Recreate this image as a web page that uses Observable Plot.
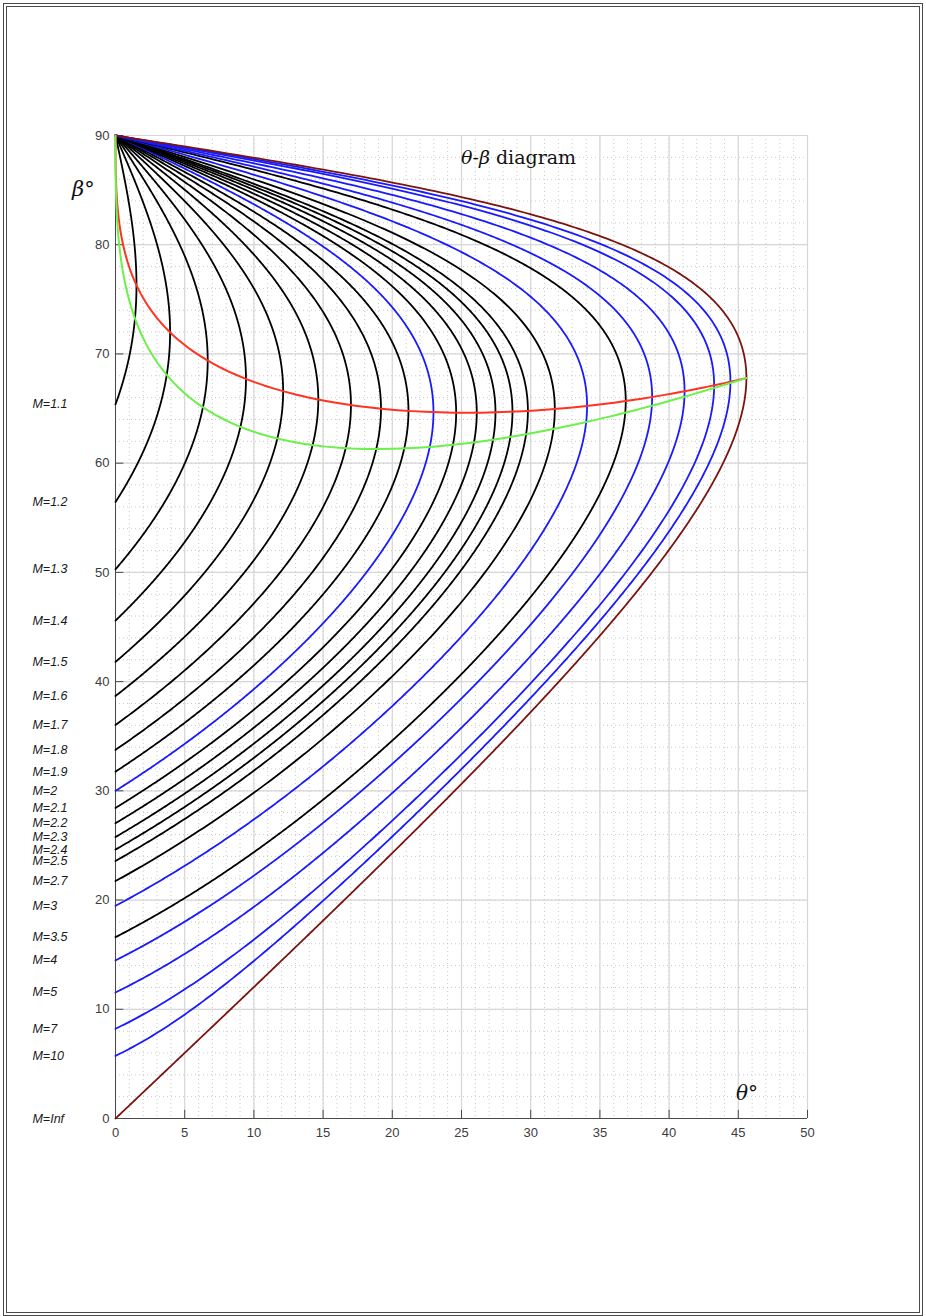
<!DOCTYPE html>
<html>
<head>
<meta charset="utf-8">
<script src="https://cdn.jsdelivr.net/npm/d3@7"></script>
<script src="https://cdn.jsdelivr.net/npm/@observablehq/plot@0.6"></script>
<style>
  html, body { margin: 0; padding: 0; background: #fff; }
  #page { position: relative; width: 926px; height: 1316px; overflow: hidden; }
  #frame { position: absolute; left: 3px; top: 3px; width: 920px; height: 1313px; box-sizing: border-box; border: 4px double #4a4a4a; pointer-events: none; }
  #chart { position: absolute; left: 0; top: 0; }
  .lbl { position: absolute; white-space: nowrap; color: #111; }
  #title { font-family: "DejaVu Serif", "Liberation Serif", serif; font-size: 19px; left: 461px; top: 146px; }
  #ylab { font-family: "DejaVu Serif", "Liberation Serif", serif; font-style: italic; font-size: 21px; left: 72px; top: 177px; }
  #xlab { font-family: "DejaVu Serif", "Liberation Serif", serif; font-style: italic; font-size: 20px; left: 736px; top: 1081px; }
</style>
</head>
<body>
<div id="page">
  <div id="chart"></div>
  <div class="lbl" id="title"><i>θ</i>-<i>β</i> diagram</div>
  <div class="lbl" id="ylab">β°</div>
  <div class="lbl" id="xlab">θ°</div>
  <div id="frame"></div>
</div>
<script>
// Mach numbers of the drawn curves
const machNumbers = [1.1, 1.2, 1.3, 1.4, 1.5, 1.6, 1.7, 1.8, 1.9, 2, 2.1, 2.2, 2.3, 2.4, 2.5, 2.7, 3, 3.5, 4, 5, 7, 10, Infinity];
const machLabels  = ["M=1.1","M=1.2","M=1.3","M=1.4","M=1.5","M=1.6","M=1.7","M=1.8","M=1.9","M=2","M=2.1","M=2.2","M=2.3","M=2.4","M=2.5","M=2.7","M=3","M=3.5","M=4","M=5","M=7","M=10","M=Inf"];
const blueMach = [2, 3, 4, 5, 7, 10];
const xTicks = [0, 5, 10, 15, 20, 25, 30, 35, 40, 45, 50];
const yTicks = [0, 10, 20, 30, 40, 50, 60, 70, 80, 90];
const xMinor = d3.range(0, 51, 1);
const yMinor = d3.range(0, 91, 2);
const gamma = 1.4;

const deg = r => r * 180 / Math.PI;
// oblique shock theta-beta-M relation
function thetaOf(M, b) {
  if (!isFinite(M)) return Math.atan(Math.sin(2 * b) / (gamma + Math.cos(2 * b)));
  const s = Math.sin(b);
  return Math.atan((2 / Math.tan(b)) * (M * M * s * s - 1) / (M * M * (gamma + Math.cos(2 * b)) + 2));
}
function colorOf(M) {
  if (!isFinite(M)) return "#7a1410";
  return blueMach.includes(M) ? "#1a1aff" : "#000000";
}

const curves = [];
machNumbers.forEach((M, k) => {
  const mu = isFinite(M) ? Math.asin(1 / M) : 0;
  const N = 600;
  for (let i = 0; i <= N; i++) {
    const b = mu + (Math.PI / 2 - mu) * i / N;
    curves.push({M: machLabels[k], theta: Math.max(0, deg(thetaOf(M, b))), beta: deg(b), color: colorOf(M)});
  }
});

// max-deflection locus and sonic locus
function betaMax(M) {
  const M2 = M * M;
  const s2 = ((gamma + 1) * M2 / 4 - 1 + Math.sqrt((gamma + 1) * (1 + (gamma - 1) * M2 / 2 + (gamma + 1) * M2 * M2 / 16))) / (gamma * M2);
  return Math.asin(Math.sqrt(Math.min(1, s2)));
}
function downstreamMach(M, b) {
  const mn1 = M * Math.sin(b);
  const mn2sq = (1 + (gamma - 1) / 2 * mn1 * mn1) / (gamma * mn1 * mn1 - (gamma - 1) / 2);
  return Math.sqrt(mn2sq) / Math.sin(b - thetaOf(M, b));
}
function betaSonic(M) {
  let lo = Math.asin(1 / M) + 1e-9, hi = betaMax(M);
  for (let i = 0; i < 80; i++) {
    const mid = (lo + hi) / 2;
    if (downstreamMach(M, mid) > 1) lo = mid; else hi = mid;
  }
  return (lo + hi) / 2;
}
const locusMach = d3.range(0, 351).map(i => 1 + Math.pow(10, -4 + 9 * i / 350));
const maxLocus = locusMach.map(M => { const b = betaMax(M); return {theta: deg(thetaOf(M, b)), beta: deg(b)}; });
const sonicLocus = locusMach.map(M => { const b = betaSonic(M); return {theta: deg(thetaOf(M, b)), beta: deg(b)}; });
maxLocus.unshift({theta: 0, beta: 90});
sonicLocus.unshift({theta: 0, beta: 90});

const labelData = machNumbers.map((M, k) => ({label: machLabels[k], beta: isFinite(M) ? deg(Math.asin(1 / M)) : 0}));

const chart = Plot.plot({
  width: 926,
  height: 1316,
  marginLeft: 115,
  marginRight: 119,
  marginTop: 135,
  marginBottom: 198,
  x: {domain: [0, 50]},
  y: {domain: [0, 90]},
  style: {fontFamily: "'Liberation Sans', Arial, sans-serif", fontSize: "13px", color: "#3c3c3c", background: "transparent"},
  marks: [
    Plot.ruleX(xMinor, {stroke: "#bdbdbd", strokeDasharray: "1,3", strokeWidth: 0.8}),
    Plot.ruleY(yMinor, {stroke: "#bdbdbd", strokeDasharray: "1,3", strokeWidth: 0.8}),
    Plot.ruleX(xTicks, {stroke: "#d6d6d6", strokeWidth: 1.2}),
    Plot.ruleY(yTicks, {stroke: "#d6d6d6", strokeWidth: 1.2}),
    Plot.ruleX([0], {stroke: "#4a4a4a", strokeWidth: 1}),
    Plot.ruleY([0], {stroke: "#4a4a4a", strokeWidth: 1}),
    Plot.ruleX(xTicks, {y1: 0, y2: 0.75, stroke: "#4a4a4a"}),
    Plot.ruleY(yTicks, {x1: 0, x2: 0.6, stroke: "#4a4a4a"}),
    Plot.axisX({ticks: xTicks, tickSize: 0, tickPadding: 9, label: null, fontSize: 13}),
    Plot.axisY({ticks: yTicks, tickSize: 0, tickPadding: 6, label: null, fontSize: 13}),
    Plot.line(curves, {x: "theta", y: "beta", z: "M", stroke: "color", strokeWidth: 1.8, curve: "linear"}),
    Plot.line(maxLocus, {x: "theta", y: "beta", stroke: "#ff3322", strokeWidth: 2}),
    Plot.line(sonicLocus, {x: "theta", y: "beta", stroke: "#6cf04a", strokeWidth: 2}),
    Plot.text(labelData, {x: () => -6, y: "beta", text: "label", textAnchor: "start", fontStyle: "italic", fontSize: 12.5, fill: "#1a1a1a"})
  ]
});
document.getElementById("chart").appendChild(chart);
</script>
</body>
</html>
